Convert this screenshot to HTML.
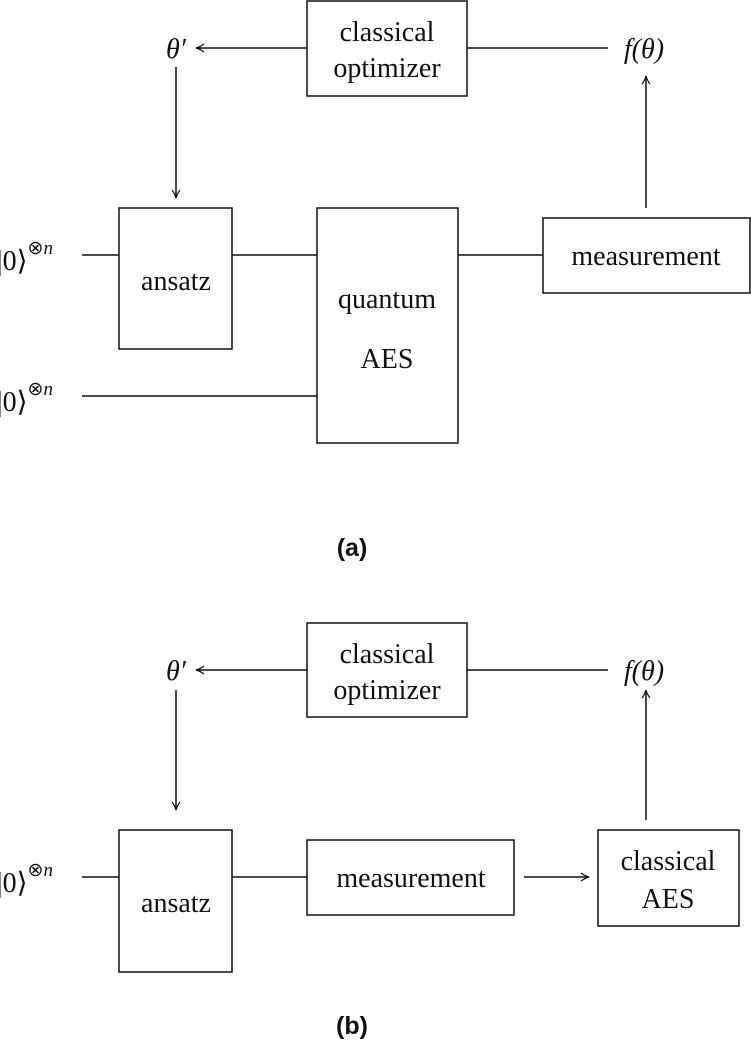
<!DOCTYPE html>
<html><head><meta charset="utf-8"><style>
html,body{margin:0;padding:0;background:#fff;}
svg{display:block}
text{font-family:"Liberation Serif",serif;fill:#111;}
.it{font-style:italic}
</style></head><body>
<svg width="751" height="1042" viewBox="0 0 751 1042" xmlns="http://www.w3.org/2000/svg">
<defs>
<marker id="ah" viewBox="0 0 10 10" refX="9" refY="5" markerWidth="10" markerHeight="10" markerUnits="userSpaceOnUse" orient="auto">
<path d="M1,1 Q5,4 9,5 Q5,6 1,9" fill="none" stroke="#111" stroke-width="1.2"/>
</marker>
</defs>
<g stroke="#111" stroke-width="1.5" fill="none">
<!-- (a) -->
<rect x="307" y="1" width="160" height="95"/>
<line x1="307" y1="48" x2="196" y2="48" marker-end="url(#ah)"/>
<line x1="467" y1="48" x2="608" y2="48"/>
<line x1="176" y1="67" x2="176" y2="198" marker-end="url(#ah)"/>
<line x1="646" y1="208" x2="646" y2="76" marker-end="url(#ah)"/>
<rect x="119" y="208" width="113" height="141"/>
<rect x="317" y="208" width="141" height="235"/>
<rect x="543" y="218" width="207" height="75"/>
<line x1="82" y1="255" x2="119" y2="255"/>
<line x1="232" y1="255" x2="317" y2="255"/>
<line x1="458" y1="255" x2="543" y2="255"/>
<line x1="82" y1="396" x2="317" y2="396"/>
<!-- (b) -->
<rect x="307" y="623" width="160" height="94"/>
<line x1="307" y1="670" x2="196" y2="670" marker-end="url(#ah)"/>
<line x1="467" y1="670" x2="608" y2="670"/>
<line x1="176" y1="690" x2="176" y2="810" marker-end="url(#ah)"/>
<line x1="646" y1="820" x2="646" y2="690" marker-end="url(#ah)"/>
<rect x="119" y="830" width="113" height="142"/>
<rect x="307" y="840" width="207" height="75"/>
<rect x="598" y="830" width="141" height="96"/>
<line x1="82" y1="877" x2="119" y2="877"/>
<line x1="232" y1="877" x2="307" y2="877"/>
<line x1="524" y1="877" x2="589" y2="877" marker-end="url(#ah)"/>
</g>
<g font-size="28" text-anchor="middle">
<text x="387" y="41">classical</text>
<text x="387" y="77">optimizer</text>
<text class="it" x="176" y="58">θ′</text>
<text class="it" x="644" y="58">f(θ)</text>
<text x="176" y="290">ansatz</text>
<text x="387" y="308">quantum</text>
<text x="387" y="368">AES</text>
<text x="646" y="265">measurement</text>

<text x="387" y="663">classical</text>
<text x="387" y="699">optimizer</text>
<text class="it" x="176" y="680">θ′</text>
<text class="it" x="644" y="680">f(θ)</text>
<text x="176" y="912">ansatz</text>
<text x="411" y="887">measurement</text>
<text x="668" y="870">classical</text>
<text x="668" y="908">AES</text>
</g>
<g font-size="28">
<text x="-3" y="270">|0⟩<tspan font-size="19" dy="-16">⊗<tspan class="it">n</tspan></tspan></text>
<text x="-3" y="411">|0⟩<tspan font-size="19" dy="-16">⊗<tspan class="it">n</tspan></tspan></text>
<text x="-3" y="892">|0⟩<tspan font-size="19" dy="-16">⊗<tspan class="it">n</tspan></tspan></text>
</g>
<g font-family="Liberation Sans" font-weight="bold" font-size="25" text-anchor="middle">
<text x="352" y="556" style="font-family:'Liberation Sans',sans-serif;font-weight:bold">(a)</text>
<text x="352" y="1034" style="font-family:'Liberation Sans',sans-serif;font-weight:bold">(b)</text>
</g>
</svg>
</body></html>
